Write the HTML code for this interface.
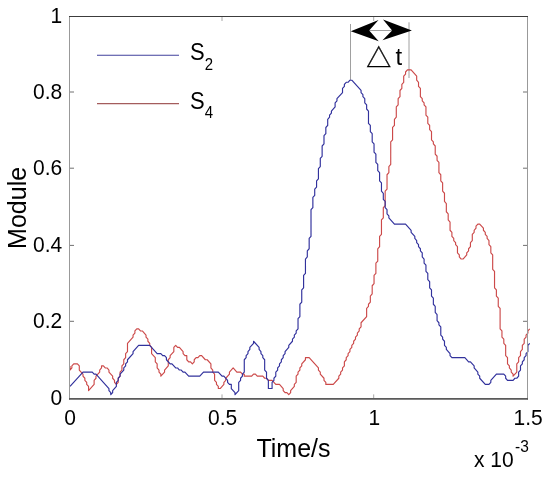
<!DOCTYPE html>
<html><head><meta charset="utf-8"><style>
html,body{margin:0;padding:0;background:#fff;}
body{width:550px;height:477px;overflow:hidden;}
svg{display:block;}
text{font-family:"Liberation Sans",Arial,Helvetica,sans-serif;fill:#000;}
</style></head><body>
<svg width="550" height="477" viewBox="0 0 550 477">
<defs><filter id="hb" x="-5%" y="-5%" width="110%" height="110%"><feGaussianBlur stdDeviation="0.45 0.2"/></filter></defs>
<rect x="0" y="0" width="550" height="477" fill="#fff"/>
<g stroke="#a0a0a0" stroke-width="1" fill="none">
<line x1="350.5" y1="24" x2="350.5" y2="80"/>
<line x1="409" y1="22.3" x2="409" y2="78"/>
<line x1="369" y1="30.5" x2="392" y2="30.5"/>
</g>
<g filter="url(#hb)">
<polyline points="70.02,365.91 70.02,370.02 71.87,367.97 71.87,365.91 73.73,363.86 77.43,363.86 79.29,365.91 79.29,370.02 82.99,374.14 82.99,376.19 84.85,378.25 84.85,380.30 86.70,382.36 86.70,384.41 88.56,386.47 88.56,390.58 94.12,384.41 94.12,380.30 95.97,378.25 95.97,376.19 99.68,372.08 99.68,370.02 101.53,367.97 101.53,365.91 103.39,365.91 105.24,367.97 107.09,367.97 108.95,370.02 108.95,372.08 112.65,376.19 112.65,378.25 114.51,380.30 114.51,382.36 116.36,384.41 118.22,382.36 118.22,378.25 120.07,376.19 120.07,372.08 121.92,370.02 121.92,365.91 123.78,363.86 123.78,359.75 125.63,357.69 125.63,353.58 127.49,351.53 127.49,343.30 133.05,337.14 133.05,335.08 134.90,333.03 134.90,330.97 136.75,328.92 138.61,328.92 140.46,330.97 142.32,330.97 146.02,335.08 146.02,337.14 147.88,339.19 147.88,341.25 149.73,343.30 149.73,345.36 151.58,347.41 151.58,353.58 155.29,357.69 155.29,361.80 157.15,363.86 157.15,367.97 159,370.02 159,372.08 160.85,374.14 160.85,376.19 164.56,372.08 164.56,370.02 168.27,365.91 168.27,359.75 170.12,357.69 170.12,355.64 173.83,351.53 173.83,347.41 175.68,345.36 177.54,347.41 179.39,347.41 183.10,351.53 183.10,353.58 184.95,355.64 186.81,355.64 186.81,359.75 188.66,361.80 190.51,361.80 192.37,363.86 194.22,361.80 194.22,359.75 196.08,357.69 197.93,357.69 199.78,355.64 201.64,355.64 205.34,359.75 207.20,359.75 210.91,363.86 210.91,367.97 212.76,370.02 212.76,372.08 214.61,374.14 214.61,380.30 216.47,382.36 216.47,384.41 218.32,386.47 218.32,388.52 220.18,388.52 223.88,384.41 223.88,382.36 225.74,380.30 225.74,378.25 229.44,374.14 229.44,372.08 233.15,367.97 236.86,372.08 240.57,372.08 242.42,374.14 244.27,374.14 244.27,376.19 251.69,376.19 253.54,374.14 255.40,374.14 257.25,376.19 262.81,376.19 264.67,378.25 266.52,378.25 268.37,380.30 272.08,380.30 275.79,384.41 279.50,384.41 283.20,388.52 283.20,390.58 285.06,392.63 286.91,392.63 288.77,394.69 290.62,392.63 290.62,390.58 294.33,386.47 294.33,384.41 296.18,382.36 296.18,376.19 298.03,374.14 298.03,372.08 299.89,370.02 299.89,367.97 301.74,365.91 301.74,363.86 305.45,359.75 305.45,357.69 309.16,357.69 318.43,367.97 318.43,370.02 320.28,372.08 320.28,374.14 323.99,378.25 323.99,380.30 325.84,382.36 325.84,384.41 333.26,384.41 338.82,378.25 338.82,376.19 340.67,374.14 340.67,372.08 342.53,370.02 342.53,367.97 344.38,365.91 344.38,361.80 346.23,359.75 346.23,357.69 348.09,355.64 348.09,353.58 349.94,351.53 349.94,349.47 351.80,347.41 351.80,345.36 353.65,343.30 353.65,341.25 355.50,339.19 355.50,337.14 357.36,335.08 357.36,333.03 359.21,330.97 359.21,328.92 361.06,326.86 361.06,322.75 366.63,316.58 366.63,308.36 368.48,306.31 368.48,304.25 370.33,302.20 370.33,296.03 372.19,293.97 372.19,285.75 374.04,283.70 374.04,275.48 375.89,273.42 375.89,263.14 377.75,261.09 377.75,248.76 379.60,246.70 379.60,236.42 381.46,234.37 381.46,219.98 383.31,217.92 383.31,207.65 385.16,205.59 385.16,191.20 387.02,189.15 387.02,174.76 388.87,172.71 388.87,166.54 390.72,164.48 390.72,141.87 392.58,139.82 392.58,127.49 394.43,125.43 394.43,119.27 396.29,117.21 396.29,106.93 398.14,104.88 398.14,98.71 399.99,96.66 399.99,90.49 401.85,88.43 401.85,84.32 403.70,82.27 403.70,76.10 405.56,74.05 405.56,71.99 407.41,69.94 411.12,69.94 416.68,76.10 416.68,80.21 418.53,82.27 418.53,86.38 420.39,88.43 420.39,96.66 422.24,98.71 422.24,100.77 424.09,102.82 424.09,104.88 425.95,106.93 425.95,115.15 427.80,117.21 427.80,123.38 429.65,125.43 429.65,129.54 431.51,131.60 431.51,139.82 433.36,141.87 433.36,143.93 435.22,145.99 435.22,154.21 437.07,156.26 437.07,160.37 438.92,162.43 438.92,172.71 440.78,174.76 440.78,180.93 442.63,182.98 442.63,191.20 444.49,193.26 444.49,201.48 446.34,203.54 446.34,211.76 448.19,213.81 448.19,219.98 450.05,222.04 450.05,230.26 451.90,232.31 451.90,236.42 453.75,238.48 453.75,240.53 455.61,242.59 455.61,244.64 457.46,246.70 457.46,252.87 459.32,254.92 459.32,256.98 461.17,259.03 463.02,259.03 466.73,254.92 466.73,252.87 468.58,250.81 468.58,248.76 470.44,246.70 470.44,242.59 472.29,240.53 472.29,234.37 474.15,232.31 474.15,230.26 476,228.20 476,226.15 477.85,224.09 479.71,224.09 483.41,228.20 483.41,230.26 485.27,232.31 485.27,234.37 487.12,236.42 487.12,238.48 488.98,240.53 488.98,244.64 490.83,246.70 490.83,252.87 492.68,254.92 492.68,269.31 494.54,271.37 494.54,287.81 496.39,289.86 496.39,296.03 498.25,298.09 498.25,306.31 500.10,308.36 500.10,328.92 501.95,330.97 501.95,337.14 503.81,339.19 503.81,343.30 505.66,345.36 505.66,355.64 507.51,357.69 507.51,363.86 509.37,365.91 509.37,367.97 511.22,370.02 511.22,372.08 513.08,374.14 513.08,376.19 516.78,372.08 516.78,363.86 518.64,361.80 518.64,357.69 520.49,355.64 520.49,351.53 522.34,349.47 522.34,345.36 524.20,343.30 524.20,339.19 526.05,337.14 526.05,335.08 527.91,333.03 527.91,330.97 529.76,328.92" fill="none" stroke="#cc4a4a" stroke-width="1.15" stroke-linejoin="round"/>
<polyline points="70.02,386.47 82.99,372.08 92.26,372.08 94.12,374.14 95.97,374.14 108.95,388.52 108.95,390.58 110.80,392.63 110.80,394.69 112.65,392.63 112.65,390.58 116.36,386.47 116.36,382.36 118.22,380.30 118.22,378.25 120.07,376.19 120.07,374.14 123.78,370.02 123.78,367.97 125.63,365.91 125.63,363.86 127.49,361.80 127.49,359.75 133.05,353.58 133.05,351.53 138.61,345.36 149.73,345.36 157.15,353.58 160.85,353.58 162.71,355.64 164.56,355.64 166.42,357.69 166.42,359.75 170.12,363.86 171.98,363.86 175.68,367.97 177.54,367.97 179.39,370.02 181.25,370.02 183.10,372.08 184.95,372.08 188.66,376.19 199.78,376.19 203.49,372.08 218.32,372.08 222.03,376.19 223.88,376.19 227.59,380.30 227.59,382.36 229.44,384.41 231.30,384.41 231.30,388.52 235.01,392.63 235.01,394.69 238.71,390.58 238.71,382.36 240.57,380.30 240.57,378.25 242.42,376.19 242.42,374.14 244.27,372.08 244.27,359.75 246.13,357.69 246.13,355.64 247.98,353.58 247.98,351.53 249.84,349.47 249.84,347.41 253.54,343.30 253.54,341.25 259.11,347.41 259.11,349.47 260.96,351.53 260.96,353.58 262.81,355.64 262.81,357.69 264.67,359.75 264.67,370.02 266.52,372.08 266.52,378.25 268.37,380.30 268.37,388.52 272.08,388.52 272.08,382.36 273.94,380.30 273.94,378.25 275.79,376.19 275.79,372.08 277.64,370.02 277.64,367.97 279.50,365.91 279.50,363.86 281.35,361.80 281.35,359.75 283.20,357.69 283.20,355.64 285.06,353.58 285.06,351.53 288.77,347.41 288.77,345.36 292.47,341.25 292.47,339.19 294.33,337.14 294.33,335.08 296.18,333.03 296.18,330.97 298.03,328.92 298.03,318.64 299.89,316.58 299.89,304.25 301.74,302.20 301.74,289.86 303.60,287.81 303.60,275.48 305.45,273.42 305.45,259.03 307.30,256.98 307.30,250.81 309.16,248.76 309.16,238.48 311.01,236.42 311.01,209.70 312.87,207.65 312.87,197.37 314.72,195.32 314.72,189.15 316.57,187.09 316.57,180.93 318.43,178.87 318.43,168.60 320.28,166.54 320.28,158.32 322.13,156.26 322.13,145.99 323.99,143.93 323.99,135.71 325.84,133.65 325.84,127.49 327.70,125.43 327.70,119.27 329.55,117.21 329.55,115.15 331.40,113.10 331.40,111.04 335.11,106.93 335.11,102.82 336.96,100.77 336.96,98.71 342.53,92.55 342.53,88.43 344.38,86.38 344.38,84.32 346.23,82.27 348.09,82.27 349.94,80.21 351.80,80.21 361.06,90.49 361.06,92.55 362.92,94.60 362.92,96.66 364.77,98.71 364.77,102.82 366.63,104.88 366.63,108.99 368.48,111.04 368.48,123.38 370.33,125.43 370.33,131.60 372.19,133.65 372.19,141.87 374.04,143.93 374.04,152.15 375.89,154.21 375.89,162.43 377.75,164.48 377.75,170.65 379.60,172.71 379.60,180.93 381.46,182.98 381.46,191.20 383.31,193.26 383.31,199.43 385.16,201.48 385.16,207.65 387.02,209.70 387.02,213.81 388.87,215.87 388.87,217.92 394.43,224.09 405.56,224.09 411.12,230.26 411.12,232.31 414.82,236.42 414.82,238.48 416.68,240.53 416.68,242.59 418.53,244.64 418.53,246.70 420.39,248.76 420.39,250.81 422.24,252.87 422.24,256.98 424.09,259.03 424.09,263.14 425.95,265.20 425.95,271.37 427.80,273.42 427.80,279.59 429.65,281.64 429.65,287.81 431.51,289.86 431.51,296.03 433.36,298.09 433.36,304.25 435.22,306.31 435.22,312.47 437.07,314.53 437.07,320.69 438.92,322.75 438.92,324.81 440.78,326.86 440.78,335.08 442.63,337.14 442.63,339.19 444.49,341.25 444.49,345.36 446.34,347.41 446.34,349.47 450.05,353.58 450.05,355.64 451.90,357.69 464.88,357.69 468.58,361.80 470.44,361.80 474.15,365.91 474.15,367.97 477.85,372.08 477.85,374.14 479.71,376.19 479.71,378.25 485.27,384.41 488.98,384.41 490.83,382.36 490.83,380.30 496.39,374.14 503.81,374.14 505.66,376.19 505.66,378.25 507.51,380.30 513.08,380.30 514.93,378.25 516.78,378.25 518.64,376.19 518.64,372.08 520.49,370.02 520.49,365.91 522.34,363.86 522.34,361.80 524.20,359.75 524.20,357.69 526.05,355.64 526.05,353.58 527.91,351.53 527.91,345.36 529.76,343.30" fill="none" stroke="#30309c" stroke-width="1.15" stroke-linejoin="round"/>
</g>
<g fill="none">
<g stroke="#a8a8a8" stroke-width="1"><line x1="222.0" y1="398.9" x2="222.0" y2="394.4"/><line x1="222.0" y1="16.5" x2="222.0" y2="21.0"/><line x1="373.7" y1="398.9" x2="373.7" y2="394.4"/><line x1="373.7" y1="16.5" x2="373.7" y2="21.0"/></g>
<g stroke="#707070" stroke-width="1"><line x1="69.5" y1="321.3" x2="74.0" y2="321.3"/><line x1="527.5" y1="321.3" x2="523.0" y2="321.3"/><line x1="69.5" y1="245.4" x2="74.0" y2="245.4"/><line x1="527.5" y1="245.4" x2="523.0" y2="245.4"/><line x1="69.5" y1="168.2" x2="74.0" y2="168.2"/><line x1="527.5" y1="168.2" x2="523.0" y2="168.2"/><line x1="69.5" y1="92.0" x2="74.0" y2="92.0"/><line x1="527.5" y1="92.0" x2="523.0" y2="92.0"/></g>
<line x1="69.5" y1="16" x2="69.5" y2="399.7" stroke="#999999" stroke-width="1"/>
<line x1="527.5" y1="16" x2="527.5" y2="399.7" stroke="#999999" stroke-width="1"/>
<line x1="69" y1="16.5" x2="528" y2="16.5" stroke="#3c3c3c" stroke-width="1.1"/>
<line x1="69" y1="398.9" x2="528" y2="398.9" stroke="#5a5a5a" stroke-width="1.6"/>
</g>
<g font-size="21">
<text transform="translate(62.2 405.20) scale(1.0 1.06)" text-anchor="end">0</text>
<text transform="translate(62.2 327.90) scale(1.0 1.06)" text-anchor="end">0.2</text>
<text transform="translate(62.2 252.00) scale(1.0 1.06)" text-anchor="end">0.4</text>
<text transform="translate(62.2 174.80) scale(1.0 1.06)" text-anchor="end">0.6</text>
<text transform="translate(62.2 98.60) scale(1.0 1.06)" text-anchor="end">0.8</text>
<text transform="translate(62.2 23.10) scale(1.0 1.06)" text-anchor="end">1</text>
<text transform="translate(70.20 424.8) scale(1.0 1.06)" text-anchor="middle">0</text>
<text transform="translate(222.70 424.8) scale(1.0 1.06)" text-anchor="middle">0.5</text>
<text transform="translate(374.40 424.8) scale(1.0 1.06)" text-anchor="middle">1</text>
<text transform="translate(528.20 424.8) scale(1.0 1.06)" text-anchor="middle">1.5</text>
</g>
<text x="25.9" y="207.9" font-size="25" text-anchor="middle" transform="rotate(-90 25.9 207.9)">Module</text>
<text x="293.5" y="457" font-size="25" text-anchor="middle">Time/s</text>
<text transform="translate(474 467) scale(1 1.06)" font-size="21">x 10</text>
<text transform="translate(515 452.2) scale(1 1.06)" font-size="15.5">-3</text>
<line x1="97" y1="55.2" x2="179" y2="55.2" stroke="#40409c" stroke-width="1.1"/>
<line x1="97" y1="103.6" x2="179" y2="103.6" stroke="#a45c5c" stroke-width="1.1"/>
<text transform="translate(190 60.2) scale(1 1.07)" font-size="22">S<tspan font-size="15" dx="0" dy="8.8">2</tspan></text>
<text transform="translate(190 108.7) scale(1 1.07)" font-size="22">S<tspan font-size="15" dx="0" dy="8.8">4</tspan></text>
<polygon points="350.8,31.2 378.5,20 369.2,30.6 378.7,41.2" fill="#000"/>
<polygon points="411.9,30.5 383,19.6 392.1,30.5 382.5,40.3" fill="#000"/>
<text x="366.3" y="66.5" font-size="25" style="font-family:'Liberation Sans','Noto Sans CJK SC',sans-serif" stroke="#000" stroke-width="0.35">&#x25B3;</text>
<text x="395.6" y="65.2" font-size="24">t</text>
</svg>
</body></html>
